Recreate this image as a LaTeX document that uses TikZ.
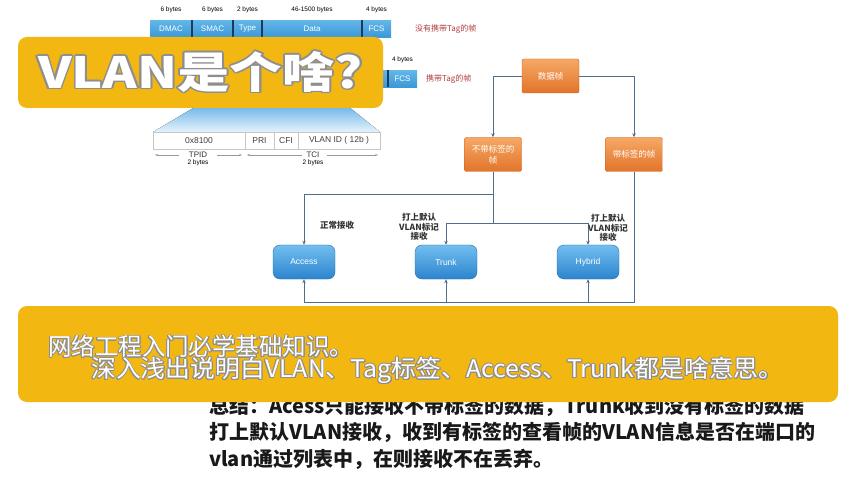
\documentclass[tikz,border=0pt]{standalone}
\usepackage{fontspec}
\setmainfont{Liberation Sans}
\newfontfamily\cjk{Noto Sans CJK SC}
\usepackage{contour}
\usetikzlibrary{arrows.meta,positioning}

\definecolor{banneryellow}{HTML}{F3B711}
\definecolor{outlinegray}{HTML}{8E8E8E}
\definecolor{celltop}{HTML}{62B6E8}
\definecolor{cellblue}{HTML}{3A98D6}
\definecolor{divider}{HTML}{1D3A5A}
\definecolor{notered}{HTML}{B23A3A}
\definecolor{tagblue}{HTML}{3C9CE0}
\definecolor{tagpale}{HTML}{E6F3FB}
\definecolor{orangetop}{HTML}{F6A866}
\definecolor{orangebot}{HTML}{E2742A}
\definecolor{orangeline}{HTML}{C7611E}
\definecolor{bluetop}{HTML}{72BEF0}
\definecolor{bluebot}{HTML}{2C84CE}
\definecolor{blueline}{HTML}{2B6CA6}
\definecolor{flowline}{HTML}{4E6E8E}

\begin{document}
\begin{tikzpicture}[
  x=1pt,
  y=-1pt,
  >={Stealth[length=4pt,width=3.4pt]},
  cell/.style={top color=celltop, bottom color=cellblue, minimum height=17, inner sep=0, outer sep=0, text=white, font=\fontsize{8}{9}\selectfont},
  bytes/.style={inner sep=0, font=\fontsize{6.5}{7}\selectfont},
  note/.style={inner sep=0, text=notered, font=\cjk\fontsize{8}{9}\selectfont},
  sep/.style={draw=divider, line width=1.6pt},
  tcell/.style={draw=black!22, fill=white, minimum height=17, inner sep=0, outer sep=0, text=black!75, font=\fontsize{8.5}{9}\selectfont},
  dim/.style={draw=black!40, line width=0.5pt, -{Stealth[length=3pt,width=2.2pt]}},
  fname/.style={inner sep=0, text=black!80, font=\fontsize{8}{9}\selectfont},
  obox/.style={draw=orangeline, rounded corners=2pt, top color=orangetop, bottom color=orangebot, minimum width=57, minimum height=34, align=center, text=white, font=\cjk\fontsize{8.5}{11}\selectfont},
  bbox/.style={draw=blueline, rounded corners=7pt, top color=bluetop, bottom color=bluebot, minimum width=62, minimum height=34, text=white, font=\fontsize{8.5}{10}\selectfont},
  flow/.style={->, draw=flowline, line width=0.9pt},
  line/.style={draw=flowline, line width=0.9pt},
  act/.style={inner sep=0, align=center, text=black!80, font=\cjk\bfseries\fontsize{8.5}{9.5}\selectfont},
  bar/.style={fill=banneryellow, rounded corners=9pt},
  sum/.style={inner sep=0, anchor=west, text=black!90, font=\cjk\bfseries\fontsize{20}{20}\selectfont},
  subline/.style={inner sep=0, anchor=west, text=white, font=\cjk\fontsize{23}{23}\selectfont}
]
  \useasboundingbox (0,0) rectangle (864,486);
  \fill[white] (0,0) rectangle (864,486);

  % untagged frame
  \node[cell, minimum width=42, anchor=west] (dmac) at (150,29) {DMAC};
  \node[cell, minimum width=41, right=0pt of dmac] (smac) {SMAC};
  \node[cell, minimum width=29, right=0pt of smac] (type) {Type};
  \node[cell, minimum width=100, right=0pt of type] (data) {Data};
  \node[cell, minimum width=29, right=0pt of data] (fcs) {FCS};
  \foreach \c in {smac,type,data,fcs}
    \draw[sep] (\c.north west) -- (\c.south west);
  \node[bytes, above=7pt of dmac] (bdmac) {6 bytes};
  \node[bytes, above=7pt of smac] (bsmac) {6 bytes};
  \node[bytes, above=7pt of type] (btype) {2 bytes};
  \node[bytes, above=7pt of data] (bdata) {46-1500 bytes};
  \node[bytes, above=7pt of fcs] (bfcs) {4 bytes};
  \node[note, right=24pt of fcs] (nountag) {没有携带Tag的帧};

  % tagged frame
  \node[cell, minimum width=40, anchor=east] (tdata) at (388,79) {};
  \node[cell, minimum width=29, right=0pt of tdata] (tfcs) {FCS};
  \draw[sep] (tfcs.north west) -- (tfcs.south west);
  \node[bytes, above=7pt of tfcs] (btfcs) {4 bytes};
  \node[note, right=9pt of tfcs] (notag) {携带Tag的帧};

  % tag fields
  \fill[top color=tagblue, bottom color=tagpale] (215,95) -- (334,95) -- (380,132) -- (153,132) -- cycle;
  \node[tcell, minimum width=92, anchor=west] (tpidv) at (153,140.5) {0x8100};
  \node[tcell, minimum width=29, right=0pt of tpidv] (pri) {PRI};
  \node[tcell, minimum width=24, right=0pt of pri] (cfi) {CFI};
  \node[tcell, minimum width=82, right=0pt of cfi] (vid) {VLAN ID ( 12b )};
  \node[fname] (tpid) at (198,155) {TPID};
  \node[bytes, below=2pt of tpid] (btpid) {2 bytes};
  \node[fname] (tci) at (313,155) {TCI};
  \node[bytes, below=2pt of tci] (btci) {2 bytes};
  \draw[dim] ([xshift=-10pt]tpid.west) -- ([xshift=2pt]tpid.west -| tpidv.west);
  \draw[dim] ([xshift=10pt]tpid.east) -- ([xshift=-3pt]tpid.east -| tpidv.east);
  \draw[dim] ([xshift=-4pt]tci.west) -- ([xshift=2pt]tci.west -| pri.west);
  \draw[dim] ([xshift=7pt]tci.east) -- ([xshift=-2pt]tci.east -| vid.east);

  % flow chart
  \node[obox] (frm) at (550.5,76) {数据帧};
  \node[obox] (untag) at (493,154.5) {不带标签的\\帧};
  \node[obox] (tagged) at (634,154.5) {带标签的帧};
  \node[bbox] (access) at (304,262) {Access};
  \node[bbox] (trunk) at (446,262) {Trunk};
  \node[bbox] (hybrid) at (588,262) {Hybrid};

  \coordinate (ja) at (untag.south |- 0,194);
  \coordinate (jn) at (untag.south |- 0,223);
  \coordinate (ba) at (access.south |- 0,302);
  \coordinate (bt) at (trunk.south |- 0,302);
  \coordinate (bh) at (hybrid.south |- 0,302);

  \draw[flow] (frm.west) -| (untag.north);
  \draw[flow] (frm.east) -| (tagged.north);
  \draw[line] (untag.south) -- (jn);
  \draw[flow] (ja) -| (access.north);
  \draw[flow] (jn) -| (trunk.north);
  \draw[flow] (jn) -| (hybrid.north);
  \draw[line] (tagged.south) |- (ba);
  \draw[flow] (ba) -- (access.south);
  \draw[flow] (bt) -- (trunk.south);
  \draw[flow] (bh) -- (hybrid.south);

  \node[act] (lacc) at (337,225) {正常接收};
  \node[act] (ltrunk) at (419,227) {打上默认\\VLAN标记\\接收};
  \node[act] (lhybrid) at (608,228) {打上默认\\VLAN标记\\接收};

  % summary
  \node[sum] (sum1) at (209,406) {总结：Acess只能接收不带标签的数据，Trunk收到没有标签的数据};
  \node[sum] (sum2) at (209,432) {打上默认VLAN接收，收到有标签的查看帧的VLAN信息是否在端口的};
  \node[sum] (sum3) at (209,459) {vlan通过列表中，在则接收不在丢弃。};

  % banners
  \node[bar, minimum width=365, minimum height=71, text=white, font=\cjk\bfseries\fontsize{43}{43}\selectfont] (title) at (200.5,72.5)
    {\contourlength{1.4pt}\scalebox{1.22}[1]{\contour{outlinegray}{VLAN是个啥?}}};
  \node[bar, minimum width=820, minimum height=96] (subbar) at (428,354) {};
  \node[subline] (sub1) at (48,347)
    {\contourlength{0.8pt}\scalebox{1.02}[1.05]{\contour{outlinegray}{网络工程入门必学基础知识。}}};
  \node[subline] (sub2) at (91,371)
    {\contourlength{0.8pt}\scalebox{1.08}[1.05]{\contour{outlinegray}{深入浅出说明白VLAN、Tag标签、Access、Trunk都是啥意思。}}};
\end{tikzpicture}
\end{document}
